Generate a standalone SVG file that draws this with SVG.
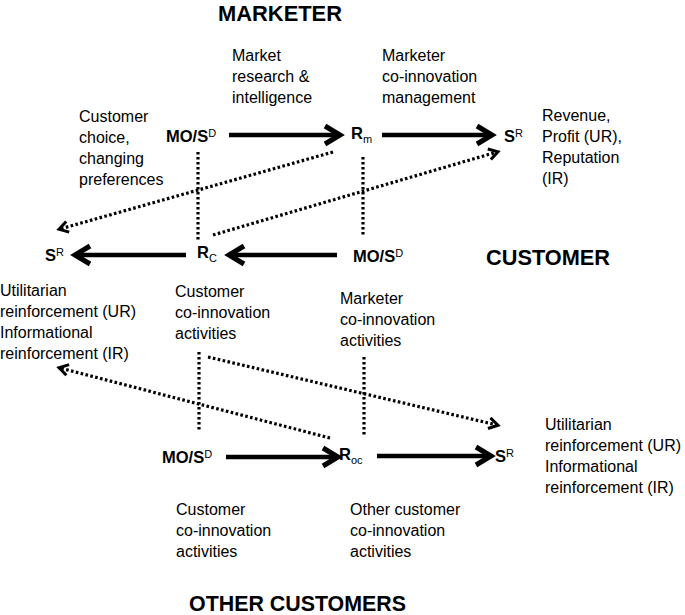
<svg xmlns="http://www.w3.org/2000/svg" width="685" height="615" viewBox="0 0 685 615">
<defs>
<style>
text{font-family:"Liberation Sans",Arial,sans-serif;fill:#000}
.t{font-size:16px}
.b{font-size:16.5px;font-weight:bold}
.sup{font-size:11px;font-weight:normal}
.h{font-size:22px;font-weight:bold}
.solid{stroke:#000;stroke-width:4.5;fill:none;marker-end:url(#ah)}
.dot{stroke:#000;stroke-width:3.2;fill:none;stroke-dasharray:2.6 2.4}
.dota{marker-end:url(#dh)}
</style>
<marker id="ah" markerUnits="userSpaceOnUse" viewBox="-20 -14 26 28" markerWidth="26" markerHeight="28" refX="-3" refY="0" orient="auto">
<path d="M-15,-9 L0,0 L-15,9" fill="none" stroke="#000" stroke-width="5" stroke-linejoin="miter"/>
</marker>
<marker id="dh" markerUnits="userSpaceOnUse" viewBox="-14 -9 18 18" markerWidth="18" markerHeight="18" refX="-1" refY="0" orient="auto">
<path d="M-9,-5.5 L0,0 L-9,5.5" fill="none" stroke="#000" stroke-width="3"/>
</marker>
</defs>
<rect width="685" height="615" fill="#fff"/>

<g id="titles">
<text class="h" x="218" y="21" textLength="124" lengthAdjust="spacingAndGlyphs">MARKETER</text>
<text class="h" x="486" y="265" textLength="124" lengthAdjust="spacingAndGlyphs">CUSTOMER</text>
<text class="h" x="189" y="611" textLength="217" lengthAdjust="spacingAndGlyphs">OTHER CUSTOMERS</text>
</g>

<g id="connectors">
<path class="solid" d="M229,135 H337"/>
<path class="solid" d="M382,135 H489"/>
<path class="solid" d="M186,255 H78"/>
<path class="solid" d="M337,255 H232"/>
<path class="solid" d="M226,457 H335"/>
<path class="solid" d="M377,456 H488"/>
<path class="dot dota" d="M333,152 L60,229"/>
<path class="dot dota" d="M213,235 L497,152"/>
<path class="dot dota" d="M208,357 L497,425"/>
<path class="dot dota" d="M330,438 L60,368"/>
<path class="dot" d="M198,152 V240"/>
<path class="dot" d="M363,157 V237"/>
<path class="dot" d="M199,352 V432"/>
<path class="dot" d="M364,357 V435"/>
</g>

<g id="marketer-mosd"><text class="b" x="166" y="142">MO/S<tspan class="sup" dy="-5">D</tspan></text></g>
<g id="marketer-rm"><text class="b" x="351" y="139">R<tspan class="sup" dy="4">m</tspan></text></g>
<g id="marketer-sr"><text class="b" x="504" y="141.5">S<tspan class="sup" dy="-5">R</tspan></text></g>

<g id="customer-sr"><text class="b" x="45" y="261">S<tspan class="sup" dy="-5">R</tspan></text></g>
<g id="customer-rc"><text class="b" x="197" y="258">R<tspan class="sup" dy="4">C</tspan></text></g>
<g id="customer-mosd"><text class="b" x="353" y="262">MO/S<tspan class="sup" dy="-5">D</tspan></text></g>

<g id="other-mosd"><text class="b" x="162" y="463">MO/S<tspan class="sup" dy="-5">D</tspan></text></g>
<g id="other-roc"><text class="b" x="339" y="460">R<tspan class="sup" dy="4">oc</tspan></text></g>
<g id="other-sr"><text class="b" x="495" y="462">S<tspan class="sup" dy="-5">R</tspan></text></g>

<g id="labels">
<text class="t" x="232" y="61">Market</text>
<text class="t" x="232" y="82">research &amp;</text>
<text class="t" x="232" y="103">intelligence</text>
<text class="t" x="382" y="61">Marketer</text>
<text class="t" x="382" y="82">co-innovation</text>
<text class="t" x="382" y="103">management</text>
<text class="t" x="79" y="122">Customer</text>
<text class="t" x="79" y="143">choice,</text>
<text class="t" x="79" y="164">changing</text>
<text class="t" x="79" y="185">preferences</text>
<text class="t" x="542" y="121">Revenue,</text>
<text class="t" x="542" y="142">Profit (UR),</text>
<text class="t" x="542" y="163">Reputation</text>
<text class="t" x="542" y="184">(IR)</text>
<text class="t" x="0" y="296">Utilitarian</text>
<text class="t" x="0" y="317">reinforcement (UR)</text>
<text class="t" x="0" y="338">Informational</text>
<text class="t" x="0" y="359">reinforcement (IR)</text>
<text class="t" x="175" y="297">Customer</text>
<text class="t" x="175" y="318">co-innovation</text>
<text class="t" x="175" y="339">activities</text>
<text class="t" x="340" y="304">Marketer</text>
<text class="t" x="340" y="325">co-innovation</text>
<text class="t" x="340" y="346">activities</text>
<text class="t" x="545" y="430">Utilitarian</text>
<text class="t" x="545" y="451">reinforcement (UR)</text>
<text class="t" x="545" y="472">Informational</text>
<text class="t" x="545" y="493">reinforcement (IR)</text>
<text class="t" x="176" y="515">Customer</text>
<text class="t" x="176" y="536">co-innovation</text>
<text class="t" x="176" y="557">activities</text>
<text class="t" x="350" y="515">Other customer</text>
<text class="t" x="350" y="536">co-innovation</text>
<text class="t" x="350" y="557">activities</text>
</g>
</svg>
